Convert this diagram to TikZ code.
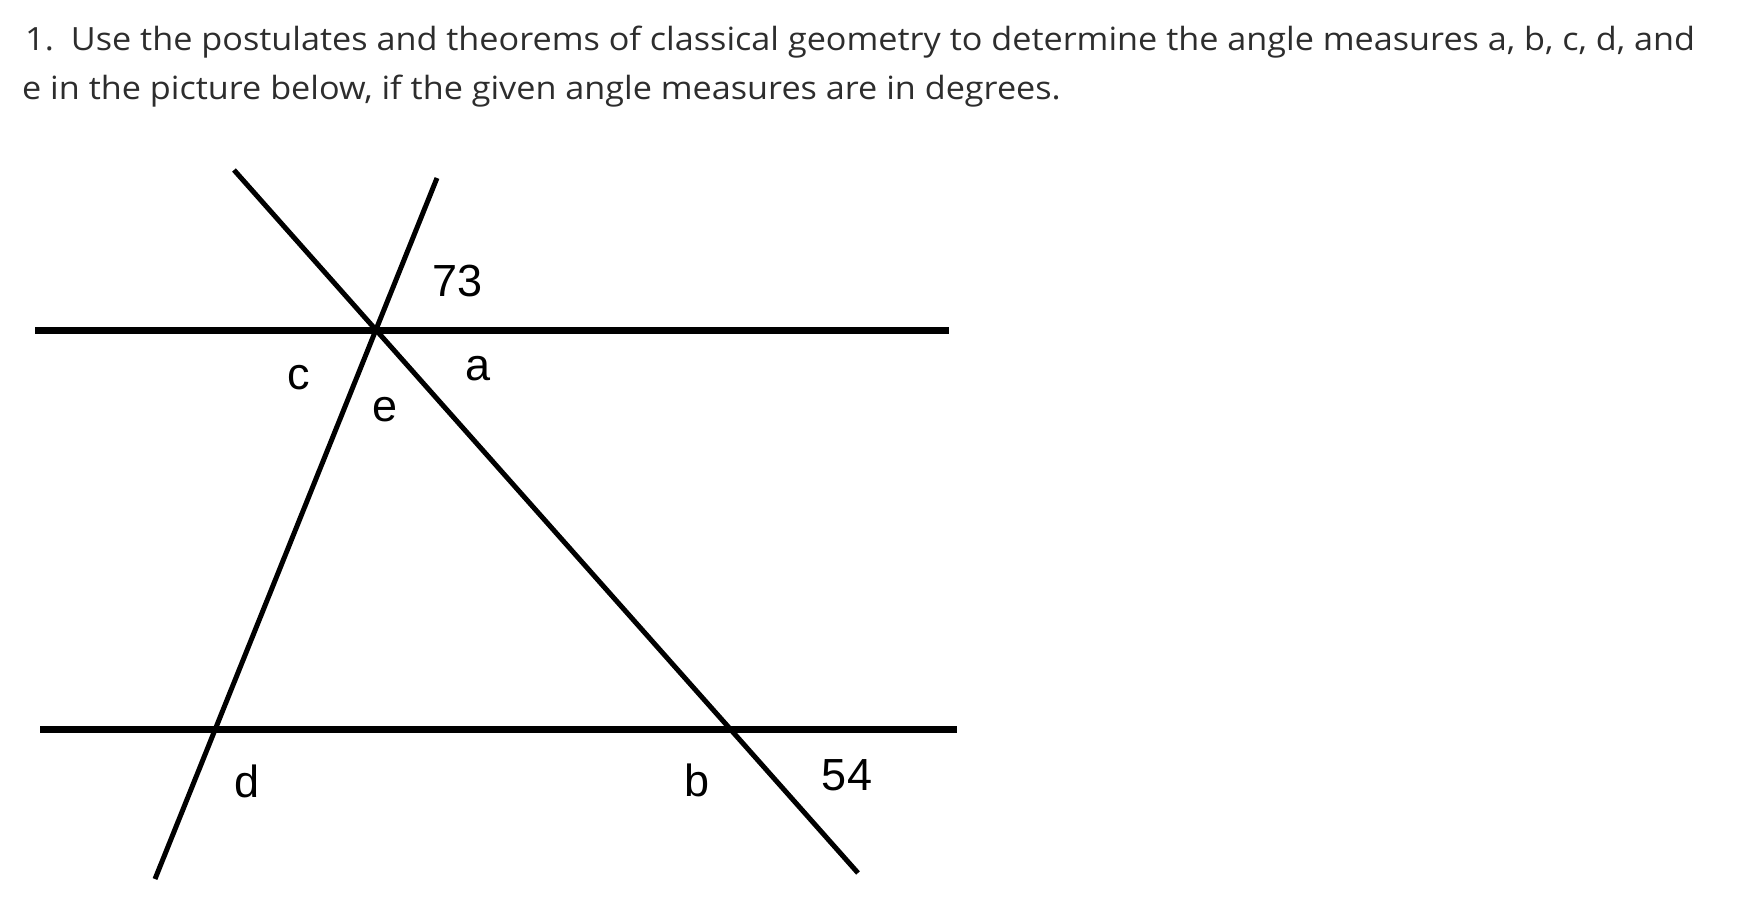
\documentclass[tikz,border=0pt]{standalone}
\usepackage{fontspec}
\usepackage{graphicx}
\setmainfont{Open Sans}
\newfontfamily\labelfont{Liberation Sans}
\newfontfamily\titlefontfam{Open Sans}
\definecolor{titlegray}{RGB}{45,45,45}
\newlength\titlew
\newcommand\titlefont{\titlefontfam\fontsize{32}{40}\selectfont}
\newcommand\lineone{1.\hspace{16pt}Use the postulates and theorems of classical geometry to determine the angle measures a, b, c, d, and}
\newcommand\linetwo{e in the picture below, if the given angle measures are in degrees.}
\begin{document}
\settowidth{\titlew}{\titlefont\lineone}%
\pgfmathsetmacro\sx{1670/\titlew}%
\begin{tikzpicture}[x=1pt,y=-1pt,
  hline/.style={line width=7pt, line cap=butt},
  sline/.style={line width=5pt, line cap=butt},
  lab/.style={font=\labelfont\fontsize{45}{45}\selectfont, anchor=base, inner sep=0pt},
  ttl/.style={anchor=base west, inner sep=0pt, text=titlegray}]
\useasboundingbox (0,0) rectangle (1742,922);
% title
\node[ttl] (t1) at (25,50) {\scalebox{\sx}[1]{\titlefont\lineone}};
\node[ttl] (t2) at (22,99) {\scalebox{\sx}[1]{\titlefont\linetwo}};
% coordinates
\coordinate (h1a) at (35,330);
\coordinate (h1b) at (949,330);
\coordinate (h2a) at (40,729);
\coordinate (h2b) at (957,729);
\coordinate (p1) at (155,879);
\coordinate (p2) at (437,178);
\coordinate (q1) at (234,170);
\coordinate (q2) at (858,873);
% lines
\draw[hline] (h1a) -- (h1b);
\draw[hline] (h2a) -- (h2b);
\draw[sline] (p1) -- (p2);
\draw[sline] (q1) -- (q2);
% labels
\node[lab] (l73) at (458,296) {73};
\node[lab] (lc) at (299,389) {c};
\node[lab] (la) at (478,380) {a};
\node[lab] (le) at (385,421) {e};
\node[lab] (ld) at (247,797) {d};
\node[lab] (lb) at (697,796) {b};
\node[lab] (l54) at (847,790) {54};
\end{tikzpicture}
\end{document}
